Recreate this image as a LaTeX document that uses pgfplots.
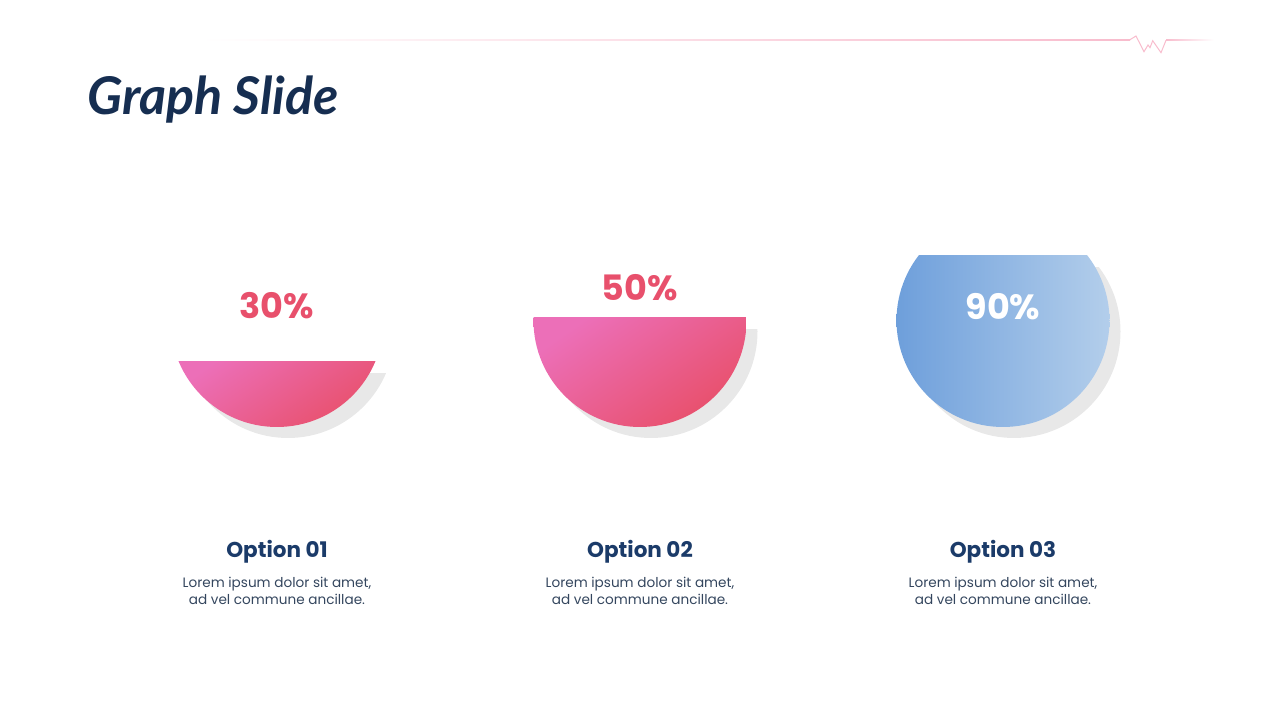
\documentclass[border=0pt]{standalone}
\usepackage{pgfplots}
\pgfplotsset{compat=1.18}
\usepackage{fontspec}
\setmainfont{Poppins}
\newfontfamily\titlefont{Lato}

\definecolor{navy}{HTML}{1B3B69}
\definecolor{titlenavy}{HTML}{162E51}
\definecolor{bodytxt}{HTML}{34465E}
\definecolor{pctpink}{HTML}{E8506C}
\definecolor{pinkA}{HTML}{EC6FB8}
\definecolor{redA}{HTML}{E84F69}
\definecolor{blueA}{HTML}{6E9FDB}
\definecolor{blueB}{HTML}{A6C4E8}
\definecolor{blueC}{HTML}{B3CEEB}
\definecolor{shadowgray}{HTML}{E8E8E8}
\definecolor{lineC}{HTML}{F8BCCD}

\begin{document}
\begin{tikzpicture}
\begin{axis}[
    x=1pt, y=1pt,
    xmin=0, xmax=1280,
    ymin=-293, ymax=427,
    hide axis, clip=false,
    at={(0,0)}, anchor=south west,
]

% shadows (segment shifted by 11 right / 11 down)
\begin{scope}
\clip (axis cs:288,95.5) circle[radius=106.5pt];
\addplot[fill=shadowgray, draw=none] coordinates {(160,-40) (160,54) (420,54) (420,-40)} -- cycle;
\end{scope}
\begin{scope}
\clip (axis cs:651,95.5) circle[radius=106.5pt];
\addplot[fill=shadowgray, draw=none] coordinates {(520,-40) (520,98) (780,98) (780,-40)} -- cycle;
\end{scope}
\begin{scope}
\clip (axis cs:1014,95.5) circle[radius=106.5pt];
\addplot[fill=shadowgray, draw=none] coordinates {(880,-40) (880,160) (1140,160) (1140,-40)} -- cycle;
\end{scope}

% filled levels
\begin{scope}
\clip (axis cs:277,106.5) circle[radius=106.5pt];
\addplot[ybar, bar width=213pt, bar shift=0pt, draw=none,
    top color=pinkA, bottom color=redA, shading angle=35]
    coordinates {(277,65)};
\end{scope}
\begin{scope}
\clip (axis cs:640,106.5) circle[radius=106.5pt];
\addplot[ybar, bar width=213pt, bar shift=0pt, draw=none,
    top color=pinkA, bottom color=redA, shading angle=35]
    coordinates {(640,109)};
\end{scope}
\begin{scope}
\clip (axis cs:1003,106.5) circle[radius=106.5pt];
\addplot[ybar, bar width=213pt, bar shift=0pt, draw=none,
    left color=blueA, middle color=blueB, right color=blueC]
    coordinates {(1003,171)};
\end{scope}

% values
\node[font=\fontsize{35}{35}\selectfont\bfseries, text=pctpink] at (axis cs:277,121) {30\%};
\node[font=\fontsize{35}{35}\selectfont\bfseries, text=pctpink] at (axis cs:640,139) {50\%};
\node[font=\fontsize{35}{35}\selectfont\bfseries, text=white] at (axis cs:1003,120.5) {90\%};

% captions
\foreach \cx/\nm in {277/01, 640/02, 1003/03} {
  \edef\temp{\noexpand\node[font=\noexpand\fontsize{21.5}{21.5}\noexpand\selectfont\noexpand\bfseries, text=navy] at (axis cs:\cx,-125) {Option \nm};}
  \temp
  \edef\temp{\noexpand\node[font=\noexpand\fontsize{13.6}{16.5}\noexpand\selectfont, text=bodytxt, align=center] at (axis cs:\cx,-164) {Lorem ipsum dolor sit amet,\noexpand\\ad vel commune ancillae.};}
  \temp
}

% title
\node[anchor=base west, inner sep=0pt, font=\titlefont\fontsize{52}{52}\selectfont\bfseries\itshape, text=titlenavy]
    at (axis cs:87,312) {Graph Slide};

% top decorative line
\shade[left color=white, right color=lineC] (axis cs:200,386.2) rectangle (axis cs:1130,387.3);
\draw[lineC, line width=1pt, line join=miter]
    (axis cs:1129,386.7) -- (axis cs:1136,391) -- (axis cs:1144,375.3) -- (axis cs:1148,382)
    -- (axis cs:1150,379.3) -- (axis cs:1152.7,386.3) -- (axis cs:1161,374.3) -- (axis cs:1166,386.7);
\shade[left color=lineC, right color=white] (axis cs:1166,386.2) rectangle (axis cs:1214,387.3);
\end{axis}
\pgfresetboundingbox
\path (0,0) rectangle (1280pt,720pt);
\end{tikzpicture}
\end{document}
